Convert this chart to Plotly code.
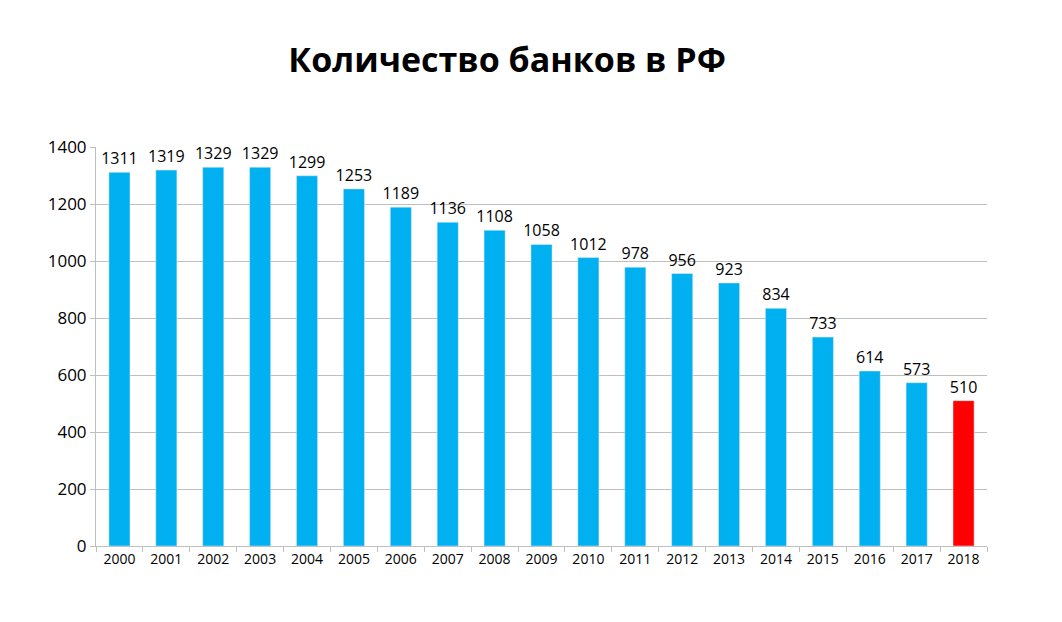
import plotly.graph_objects as go

years = [str(y) for y in range(2000, 2019)]
banks = [1311, 1319, 1329, 1329, 1299, 1253, 1189, 1136, 1108, 1058, 1012, 978, 956, 923, 834, 733, 614, 573, 510]
colors = ["#00B0F0"] * 18 + ["#FF0000"]

fig = go.Figure(go.Bar(
    x=years, y=banks, marker_color=colors, width=0.45,
    text=[str(v) for v in banks], textposition="outside", constraintext="none",
    textfont=dict(size=16, color="black"), cliponaxis=False))
fig.update_layout(
    width=1062, height=622, plot_bgcolor="white", paper_bgcolor="white",
    margin=dict(l=88, r=83, t=139, b=84),
    title=dict(text="<b>Количество банков в РФ</b>", x=0.47, y=0.935, xanchor="center",
               font=dict(size=34, color="black", family="Open Sans")),
    font=dict(family="Open Sans", color="black"),
    showlegend=False,
    yaxis=dict(range=[0, 1400], dtick=200, showgrid=True, gridcolor="#BFBFBF",
               tickfont=dict(size=17), ticks="outside", ticklen=5, tickcolor="#BFBFBF",
               showline=True, linecolor="#BFBFBF"),
    xaxis=dict(tickfont=dict(size=14), showline=True, linecolor="#BFBFBF",
               ticks="outside", tickson="boundaries", ticklen=5, tickcolor="#BFBFBF"),
)
fig.write_html("out.html")
